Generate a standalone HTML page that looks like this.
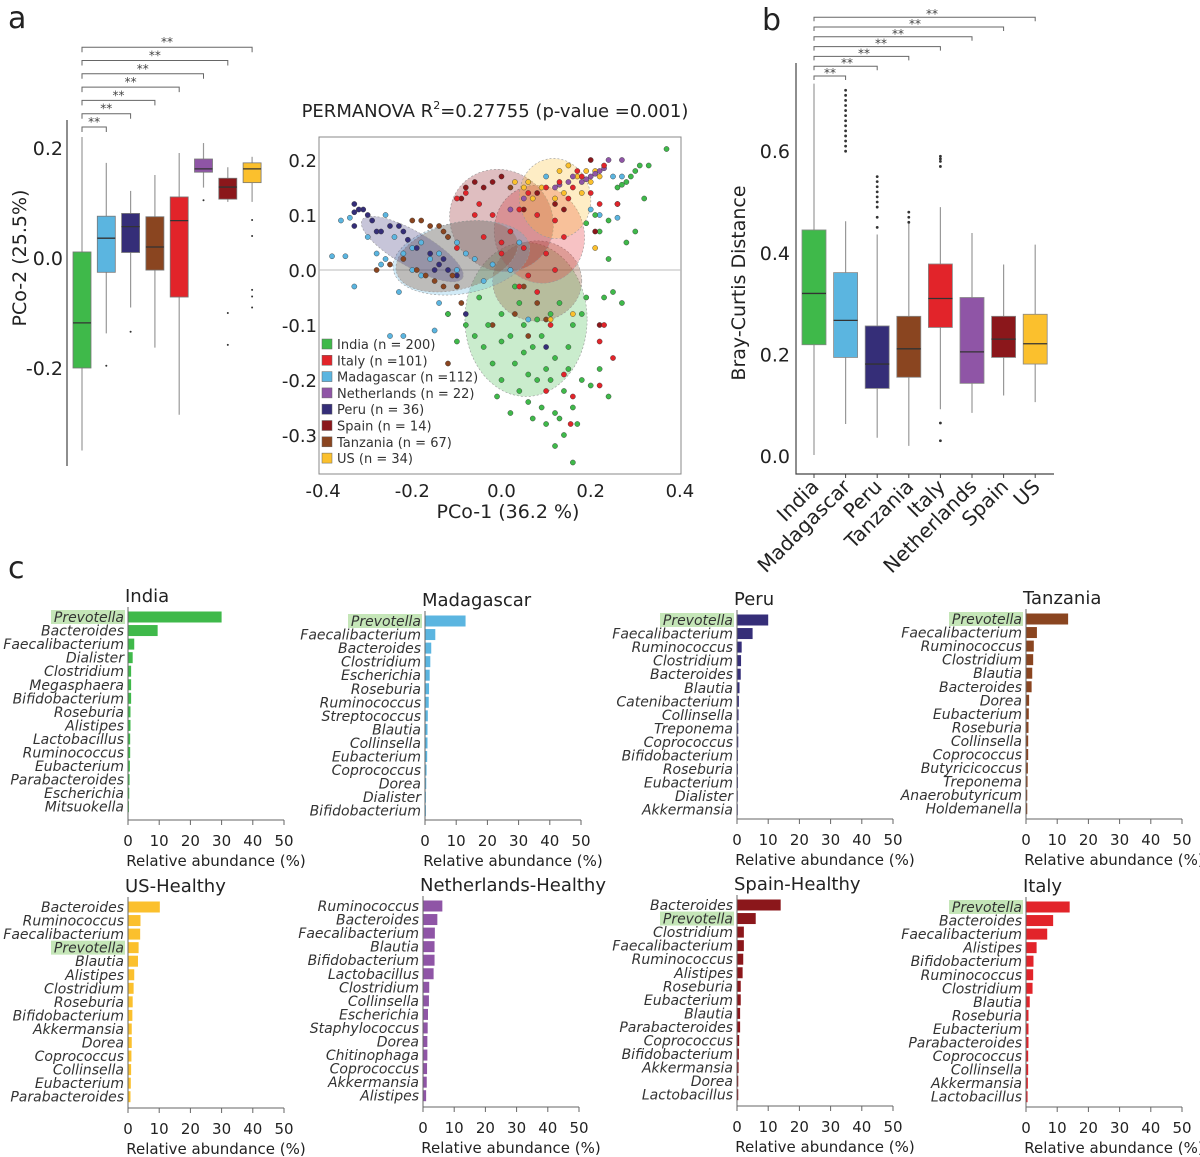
<!DOCTYPE html>
<html><head><meta charset="utf-8"><style>
html,body{margin:0;padding:0;background:#fff;}
svg{display:block;font-family:"DejaVu Sans","Liberation Sans",sans-serif;}
</style></head><body>
<svg id="fig" width="1200" height="1157" viewBox="0 0 1200 1157" xmlns="http://www.w3.org/2000/svg">
<text x="8" y="28" font-size="30" fill="#222">a</text>
<text x="762" y="30" font-size="30" fill="#222">b</text>
<text x="8" y="578" font-size="30" fill="#222">c</text>
<g id="pa"></g>
<g id="ps"></g>
<g id="pb"></g>
<g id="pc"></g>
</svg>
<script>
const NS="http://www.w3.org/2000/svg";
function mk(parent,tag,attrs,txt){const e=document.createElementNS(NS,tag);for(const k in attrs)e.setAttribute(k,attrs[k]);if(txt!==undefined)e.textContent=txt;parent.appendChild(e);return e;}

const countries=["India","Madagascar","Peru","Tanzania","Italy","Netherlands","Spain","US"];
const colors={India:"#3fb94a",Italy:"#e2242a",Madagascar:"#5bb5e0",Netherlands:"#8f55a6",Peru:"#352e78",Spain:"#8b171b",Tanzania:"#8a4520",US:"#fbc02d"};

// ---------- Panel a boxplot (PCo-2) ----------
const aOrder=["India","Madagascar","Peru","Tanzania","Italy","Netherlands","Spain","US"];
const aLow=[-0.35,-0.137,-0.09,-0.163,-0.285,0.128,0.102,0.102];
const aQ1=[-0.2,-0.026,0.01,-0.022,-0.071,0.156,0.107,0.137];
const aMed=[-0.118,0.036,0.057,0.02,0.068,0.162,0.129,0.162];
const aQ3=[0.011,0.076,0.081,0.075,0.111,0.18,0.145,0.173];
const aHigh=[0.22,0.173,0.122,0.151,0.191,0.209,0.165,0.184];
const aOut=[[],[-0.196],[-0.134],[],[],[0.105],[-0.1,-0.158],[0.069,0.04,-0.058,-0.07,-0.09]];
const aTicks=[0.2,0.0,-0.2];
const aTickLabels=["0.2","0.0","-0.2"];
(function(){
 const g=document.getElementById("pa");
 const y=v=>258-550*v, x=i=>82+i*24.3;
 const ax=mk(g,"line",{x1:67,y1:120,x2:67,y2:466,stroke:"#444","stroke-width":1.2});
 
 
 aTicks.forEach((t,i)=>{const e=mk(g,"text",{x:63,y:y(t)+7,"font-size":19,"text-anchor":"end",fill:"#222"},aTickLabels[i]);
  
  });
 const yl=mk(g,"text",{x:0,y:0,"font-size":19,"text-anchor":"middle",fill:"#222",transform:"translate(26,258) rotate(-90)"},"PCo-2 (25.5%)");
 
 
 aOrder.forEach((c,i)=>{
  const cx=x(i),w=18;
  const b=mk(g,"g",{});
  
  
  mk(b,"line",{x1:cx,x2:cx,y1:y(aHigh[i]),y2:y(aLow[i]),stroke:"#999","stroke-width":1.2});
  mk(b,"rect",{x:cx-w/2,y:y(aQ3[i]),width:w,height:y(aQ1[i])-y(aQ3[i]),fill:colors[c],stroke:"#777","stroke-width":0.8});
  mk(b,"line",{x1:cx-w/2,x2:cx+w/2,y1:y(aMed[i]),y2:y(aMed[i]),stroke:"#333","stroke-width":1.3});
  aOut[i].forEach(o=>mk(b,"circle",{cx:cx,cy:y(o),r:1,fill:"#333"}));
 });
 for(let j=1;j<8;j++){
  const yy=127-(j-1)*13.3;
  const br=mk(g,"path",{d:`M${x(0)},${yy+5}V${yy}H${x(j)}V${yy+5}`,fill:"none",stroke:"#666","stroke-width":1});
  
  
  const s=mk(g,"text",{x:(x(0)+x(j))/2,y:yy-1,"font-size":12,"text-anchor":"middle",fill:"#444"},"**");
  
  
 }
})();

// ---------- PCoA scatter ----------
const ptsIndia=[[0.37,0.22],[0.33,0.19],[0.31,0.19],[0.30,0.18],[0.29,0.17],[0.28,0.16],[0.27,0.155],[0.26,0.15],[0.32,0.13],[0.30,0.07],[0.28,0.05],[0.24,0.09],[0.22,0.07],[0.21,0.1],[0.19,0.085],[0.24,0.02],[0.23,-0.05],[0.25,-0.04],[0.27,-0.06],[0.18,-0.08],[0.16,-0.1],[0.15,-0.14],[0.12,-0.16],[0.1,-0.18],[0.08,-0.2],[0.06,-0.19],[0.03,-0.17],[0.0,-0.2],[-0.02,-0.17],[-0.04,-0.14],[0.02,-0.12],[0.05,-0.1],[0.08,-0.09],[0.11,-0.08],[0.04,-0.06],[0.0,-0.08],[-0.03,-0.1],[-0.06,-0.12],[-0.1,-0.13],[-0.12,-0.08],[-0.08,-0.1],[0.14,-0.22],[0.16,-0.25],[0.12,-0.26],[0.09,-0.25],[0.1,-0.28],[0.14,-0.3],[0.12,-0.32],[0.16,-0.35],[0.2,-0.21],[0.22,-0.18],[0.24,-0.23],[0.18,-0.2],[0.06,-0.24],[0.02,-0.26],[0.04,-0.22],[0.0,-0.13],[0.07,-0.14],[-0.05,-0.05],[0.03,-0.03],[0.09,-0.12],[0.13,-0.06],[0.05,-0.15],[-0.01,-0.23],[0.11,-0.2],[0.17,-0.28],[0.13,-0.27],[0.07,-0.27],[0.15,-0.18],[0.19,-0.05]];
const ptsItaly=[[0.22,0.12],[0.18,0.17],[0.17,0.18],[0.23,0.19],[0.26,0.12],[0.2,0.14],[0.15,0.13],[0.1,0.15],[0.06,0.14],[0.04,0.11],[0.08,0.1],[0.12,0.09],[0.14,0.06],[0.02,0.07],[0.0,0.05],[-0.05,0.12],[-0.02,0.1],[0.05,0.04],[0.1,0.03],[0.11,-0.1],[0.08,-0.04],[0.04,-0.03],[-0.06,0.1],[-0.1,0.13],[-0.08,0.14],[0.16,-0.23],[0.22,-0.21],[0.25,-0.16],[0.22,-0.13],[0.23,-0.1],[0.14,-0.19],[0.1,-0.22],[0.155,-0.28],[0.12,0.0],[0.0,0.03],[-0.1,0.04],[-0.04,0.06],[0.06,-0.01],[0.16,0.15],[0.13,0.16]];
const ptsMadagascar=[[-0.38,0.025],[-0.36,0.09],[-0.34,0.095],[-0.35,0.025],[-0.33,-0.03],[-0.3,0.06],[-0.28,0.03],[-0.27,0.01],[-0.26,0.1],[-0.24,0.06],[-0.22,0.03],[-0.23,-0.04],[-0.2,0.0],[-0.18,0.05],[-0.16,0.02],[-0.14,0.03],[-0.12,0.06],[-0.1,0.0],[-0.08,0.03],[-0.06,0.02],[-0.04,-0.02],[-0.14,-0.06],[-0.15,-0.11],[-0.22,-0.12],[-0.25,-0.12],[-0.12,-0.08],[-0.18,-0.01],[-0.1,0.05],[-0.02,0.01],[0.02,0.0],[0.04,0.05],[0.06,-0.09],[0.2,0.11],[0.22,0.1],[0.26,0.095],[0.25,0.17],[0.27,0.17],[0.1,0.17],[-0.2,0.04],[-0.26,0.02]];
const ptsNetherlands=[[0.2,0.17],[0.21,0.175],[0.22,0.18],[0.19,0.165],[0.24,0.2],[0.27,0.2],[0.18,0.16],[0.15,0.16],[0.13,0.155],[0.12,0.15],[0.16,0.17],[0.05,0.13],[0.02,0.11],[0.23,0.185]];
const ptsPeru=[[-0.33,0.12],[-0.31,0.11],[-0.33,0.105],[-0.32,0.11],[-0.3,0.1],[-0.29,0.09],[-0.33,0.08],[-0.28,0.07],[-0.27,0.07],[-0.25,0.08],[-0.23,0.08],[-0.22,0.07],[-0.21,0.055],[-0.19,0.04],[-0.16,0.03],[-0.14,0.01],[-0.12,0.0],[-0.1,-0.01],[-0.13,0.02],[-0.15,0.0],[-0.08,-0.08],[0.1,-0.14]];
const ptsSpain=[[-0.08,0.15],[-0.06,0.16],[-0.04,0.15],[-0.02,0.16],[0.0,0.17],[-0.09,0.13],[0.08,0.14],[0.12,0.12],[0.14,0.11],[0.21,0.07],[0.22,-0.1],[0.26,0.12],[0.2,0.2],[0.05,0.11]];
const ptsTanzania=[[-0.28,0.0],[-0.25,0.01],[-0.19,0.0],[-0.2,0.09],[-0.18,0.09],[-0.16,0.08],[-0.14,0.08],[-0.13,0.07],[-0.12,0.06],[-0.11,-0.01],[-0.1,-0.03],[-0.13,-0.03],[-0.15,-0.02],[-0.17,-0.01],[-0.09,-0.06],[-0.02,-0.1],[-0.12,-0.17],[0.02,0.15],[0.05,-0.03],[0.03,-0.08],[0.06,-0.12],[0.08,-0.06],[0.1,-0.09],[-0.22,0.02]];
const ptsUS=[[0.13,0.18],[0.15,0.19],[0.17,0.17],[0.19,0.18],[0.21,0.18],[0.22,0.17],[0.2,0.16],[0.14,0.14],[0.12,0.13],[0.09,0.15],[0.07,0.13],[0.05,0.15],[0.06,0.16],[0.03,0.16],[0.21,0.04],[0.16,-0.08],[0.11,-0.09],[0.18,0.14]];
const ellipseCountry=["India","Tanzania","Italy","Spain","US","Madagascar","Tanzania","Peru"];
const ellipseCx=[0.055,0.08,0.085,0.0,0.12,-0.09,-0.1,-0.2];
const ellipseCy=[-0.09,-0.02,0.065,0.09,0.13,0.022,0.025,0.038];
const ellipseRx=[0.137,0.1,0.1,0.12,0.08,0.155,0.14,0.13];
const ellipseRy=[0.14,0.073,0.09,0.09,0.073,0.065,0.06,0.032];
const ellipseAng=[0,0,-20,40,-10,-10,-15,30];
const legendLabels=["India (n = 200)","Italy (n =101)","Madagascar (n =112)","Netherlands (n = 22)","Peru (n = 36)","Spain (n = 14)","Tanzania (n = 67)","US (n = 34)"];
const legendKeys=["India","Italy","Madagascar","Netherlands","Peru","Spain","Tanzania","US"];
const sxTicks=[-0.4,-0.2,0.0,0.2,0.4];
const syTicks=[0.2,0.1,0.0,-0.1,-0.2,-0.3];
(function(){
 const g=document.getElementById("ps");
 const X=v=>501.5+446*v, Y=v=>270-550*v;
 const t=mk(g,"text",{x:495,y:117,"font-size":18,"text-anchor":"middle",fill:"#222"});
 
 
 t.appendChild(document.createTextNode("PERMANOVA R"));
 mk(t,"tspan",{"font-size":11,dy:-8},"2");
 mk(t,"tspan",{dy:8},"=0.27755 (p-value =0.001)");
 const fr=mk(g,"rect",{x:319,y:137,width:362,height:337,fill:"none",stroke:"#888","stroke-width":1});
 
 
 const zl=mk(g,"line",{x1:319,x2:681,y1:Y(0),y2:Y(0),stroke:"#bbb","stroke-width":1});
 
 
 ellipseCountry.forEach((c,i)=>{
  const e=mk(g,"ellipse",{cx:X(ellipseCx[i]),cy:Y(ellipseCy[i]),rx:446*ellipseRx[i],ry:550*ellipseRy[i],fill:colors[c],"fill-opacity":0.28,stroke:"#999","stroke-width":0.6,"stroke-dasharray":"2,2",transform:`rotate(${ellipseAng[i]} ${X(ellipseCx[i])} ${Y(ellipseCy[i])})`});
  
  
 });
 const sets=[["Madagascar",ptsMadagascar],["Peru",ptsPeru],["Tanzania",ptsTanzania],["India",ptsIndia],["US",ptsUS],["Netherlands",ptsNetherlands],["Spain",ptsSpain],["Italy",ptsItaly]];
 sets.forEach(([c,pts])=>pts.forEach(p=>{
  const d=mk(g,"circle",{cx:X(p[0]),cy:Y(p[1]),r:2.6,fill:colors[c],stroke:"#333","stroke-width":0.4});
  
  
 }));
 sxTicks.forEach(v=>{const e=mk(g,"text",{x:X(v),y:497,"font-size":18,"text-anchor":"middle",fill:"#222"},v.toFixed(1));
  
  });
 syTicks.forEach(v=>{const e=mk(g,"text",{x:317,y:Y(v)+7,"font-size":18,"text-anchor":"end",fill:"#222"},v.toFixed(1));
  
  });
 const xl=mk(g,"text",{x:508,y:518,"font-size":19,"text-anchor":"middle",fill:"#222"},"PCo-1 (36.2 %)");
 
 
 legendKeys.forEach((c,i)=>{
  const yy=344+i*16.3;
  const le=mk(g,"g",{});
  
  
  mk(le,"rect",{x:322,y:yy-5,width:10,height:10,fill:colors[c],stroke:"#666","stroke-width":0.5});
  mk(le,"text",{x:337,y:yy+5,"font-size":13,fill:"#333"},legendLabels[i]);
 });
})();

// ---------- Panel b boxplot ----------
const bOrder=["India","Madagascar","Peru","Tanzania","Italy","Netherlands","Spain","US"];
const bLow=[0.002,0.063,0.036,0.02,0.092,0.085,0.119,0.106];
const bQ1=[0.219,0.194,0.133,0.155,0.253,0.143,0.194,0.181];
const bMed=[0.32,0.267,0.181,0.211,0.31,0.205,0.23,0.221];
const bQ3=[0.445,0.361,0.256,0.275,0.378,0.312,0.275,0.279];
const bHigh=[0.733,0.462,0.436,0.457,0.49,0.439,0.377,0.416];
const bOut=[[],[0.6,0.61,0.62,0.63,0.64,0.65,0.66,0.67,0.68,0.69,0.7,0.71,0.72],[0.45,0.47,0.49,0.5,0.51,0.52,0.53,0.54,0.55],[0.46,0.47,0.48],[0.57,0.58,0.585,0.59,0.065,0.03],[],[],[]];
const bTicks=[0.0,0.2,0.4,0.6];
(function(){
 const g=document.getElementById("pb");
 const y=v=>456-508*v, x=i=>814+i*31.6;
 const a1=mk(g,"path",{d:"M796,63V474H1054",fill:"none",stroke:"#444","stroke-width":1.2});
 
 
 bTicks.forEach(t=>{const e=mk(g,"text",{x:790,y:y(t)+7,"font-size":19,"text-anchor":"end",fill:"#222"},t.toFixed(1));
  
  });
 const yl=mk(g,"text",{x:0,y:0,"font-size":19,"text-anchor":"middle",fill:"#222",transform:"translate(745,283) rotate(-90)"},"Bray-Curtis Distance");
 
 
 bOrder.forEach((c,i)=>{
  const cx=x(i),w=24;
  const b=mk(g,"g",{});
  
  
  mk(b,"line",{x1:cx,x2:cx,y1:y(bHigh[i]),y2:y(bLow[i]),stroke:"#999","stroke-width":1.2});
  mk(b,"rect",{x:cx-w/2,y:y(bQ3[i]),width:w,height:y(bQ1[i])-y(bQ3[i]),fill:colors[c],stroke:"#888","stroke-width":0.8});
  mk(b,"line",{x1:cx-w/2,x2:cx+w/2,y1:y(bMed[i]),y2:y(bMed[i]),stroke:"#333","stroke-width":1.3});
  bOut[i].forEach(o=>mk(b,"circle",{cx:cx,cy:y(o),r:1.4,fill:"#333"}));
  mk(g,"line",{x1:cx,x2:cx,y1:474,y2:478,stroke:"#444"});
  const lbl=mk(g,"text",{x:0,y:0,"font-size":20,"text-anchor":"end",fill:"#222",transform:`translate(${cx+6},${488}) rotate(-45)`},c);
  
  
 });
 for(let j=1;j<8;j++){
  const yy=76-(j-1)*9.8;
  const br=mk(g,"path",{d:`M${x(0)},${yy+4}V${yy}H${x(j)}V${yy+4}`,fill:"none",stroke:"#666","stroke-width":1});
  
  
  const s=mk(g,"text",{x:x(0)+16+(j-1)*17,y:yy+1,"font-size":12,"text-anchor":"middle",fill:"#444"},"**");
  
  
 }
})();

// ---------- Panel c bar panels ----------
const cIndiaGenera=["Prevotella","Bacteroides","Faecalibacterium","Dialister","Clostridium","Megasphaera","Bifidobacterium","Roseburia","Alistipes","Lactobacillus","Ruminococcus","Eubacterium","Parabacteroides","Escherichia","Mitsuokella"];
const cIndiaValues=[30,9.5,2,1.5,1,1,1,0.8,0.8,0.7,0.7,0.6,0.5,0.4,0.3];
const cMadGenera=["Prevotella","Faecalibacterium","Bacteroides","Clostridium","Escherichia","Roseburia","Ruminococcus","Streptococcus","Blautia","Collinsella","Eubacterium","Coprococcus","Dorea","Dialister","Bifidobacterium"];
const cMadValues=[13,3.3,2,1.7,1.5,1.3,1.2,0.9,0.8,0.8,0.7,0.5,0.4,0.3,0.3];
const cPeruGenera=["Prevotella","Faecalibacterium","Ruminococcus","Clostridium","Bacteroides","Blautia","Catenibacterium","Collinsella","Treponema","Coprococcus","Bifidobacterium","Roseburia","Eubacterium","Dialister","Akkermansia"];
const cPeruValues=[10,5,1.5,1.3,1.2,0.8,0.6,0.5,0.4,0.4,0.3,0.3,0.3,0.2,0.2];
const cTanGenera=["Prevotella","Faecalibacterium","Ruminococcus","Clostridium","Blautia","Bacteroides","Dorea","Eubacterium","Roseburia","Collinsella","Coprococcus","Butyricicoccus","Treponema","Anaerobutyricum","Holdemanella"];
const cTanValues=[13.5,3.5,2.5,2.3,2,1.8,1,0.9,0.8,0.7,0.7,0.6,0.5,0.4,0.4];
const cUSGenera=["Bacteroides","Ruminococcus","Faecalibacterium","Prevotella","Blautia","Alistipes","Clostridium","Roseburia","Bifidobacterium","Akkermansia","Dorea","Coprococcus","Collinsella","Eubacterium","Parabacteroides"];
const cUSValues=[10.2,4,3.9,3.4,3.2,2,1.8,1.5,1.4,1.2,1.2,1.1,1,0.9,0.8];
const cNethGenera=["Ruminococcus","Bacteroides","Faecalibacterium","Blautia","Bifidobacterium","Lactobacillus","Clostridium","Collinsella","Escherichia","Staphylococcus","Dorea","Chitinophaga","Coprococcus","Akkermansia","Alistipes"];
const cNethValues=[6.2,4.6,3.8,3.7,3.7,3.4,2,1.9,1.6,1.5,1.4,1.4,1.3,1.2,1];
const cSpainGenera=["Bacteroides","Prevotella","Clostridium","Faecalibacterium","Ruminococcus","Alistipes","Roseburia","Eubacterium","Blautia","Parabacteroides","Coprococcus","Bifidobacterium","Akkermansia","Dorea","Lactobacillus"];
const cSpainValues=[14,6,2.2,2.2,2,1.8,1.2,1.2,1,1,0.7,0.6,0.5,0.4,0.4];
const cItalyGenera=["Prevotella","Bacteroides","Faecalibacterium","Alistipes","Bifidobacterium","Ruminococcus","Clostridium","Blautia","Roseburia","Eubacterium","Parabacteroides","Coprococcus","Collinsella","Akkermansia","Lactobacillus"];
const cItalyValues=[14,8.7,6.8,3.4,2.4,2.3,2.1,1.2,0.8,0.8,0.8,0.7,0.7,0.6,0.5];
const cTicks=[0,10,20,30,40,50];
(function(){
 const g=document.getElementById("pc");
 const panels=[
  ["India","India",cIndiaGenera,cIndiaValues,128,617,820],
  ["Madagascar","Madagascar",cMadGenera,cMadValues,425,621,820],
  ["Peru","Peru",cPeruGenera,cPeruValues,737,620,819],
  ["Tanzania","Tanzania",cTanGenera,cTanValues,1026,619,819],
  ["US-Healthy","US",cUSGenera,cUSValues,128,907,1108],
  ["Netherlands-Healthy","Netherlands",cNethGenera,cNethValues,423,906,1107],
  ["Spain-Healthy","Spain",cSpainGenera,cSpainValues,737,905,1106],
  ["Italy","Italy",cItalyGenera,cItalyValues,1026,907,1107]
 ];
 panels.forEach(([title,key,gen,vals,x0,y0,axY])=>{
  const span=156, X=v=>x0+span*v/50, step=13.55;
  const p=mk(g,"g",{});
  
  
  const tt=mk(p,"text",{x:x0-3,y:y0-15,"font-size":18,fill:"#222"},title);
  
  
  gen.forEach((nm,i)=>{
   const yy=y0+i*step;
   if(nm==="Prevotella"){
    const hl=mk(p,"rect",{x:x0-77,y:yy-7,width:74,height:14,fill:"#c5e6b8"});
    
    
   }
   const lb=mk(p,"text",{x:x0-4,y:yy+5,"font-size":14,"font-style":"italic","text-anchor":"end",fill:"#333"},nm);
   
   
   const bar=mk(p,"rect",{x:x0,y:yy-5.5,width:Math.max(0.8,X(vals[i])-x0),height:11,fill:colors[key]});
   
   
  });
  mk(p,"path",{d:`M${x0},${y0-10}V${axY}H${x0+span}`,fill:"none",stroke:"#666","stroke-width":1});
  cTicks.forEach(t=>{
   mk(p,"line",{x1:X(t),x2:X(t),y1:axY,y2:axY+5,stroke:"#666"});
   const tl=mk(p,"text",{x:X(t),y:axY+26,"font-size":15,"text-anchor":"middle",fill:"#222"},String(t));
   
   
  });
  const xl=mk(p,"text",{x:x0+88,y:axY+46,"font-size":15,"text-anchor":"middle",fill:"#222"},"Relative abundance (%)");
  
  
 });
})();
</script>
</body></html>
